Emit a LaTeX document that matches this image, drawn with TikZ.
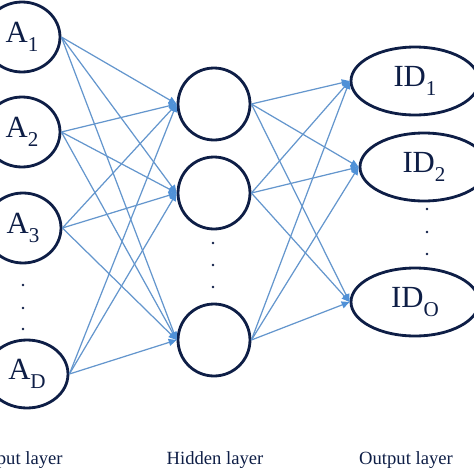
\documentclass[tikz,border=0pt]{standalone}
\usepackage{fontspec}
\setmainfont{Liberation Serif}
\usetikzlibrary{shapes.geometric,arrows.meta}
\definecolor{netnavy}{RGB}{14,30,70}
\definecolor{netblue}{RGB}{100,150,205}
\definecolor{nettip}{RGB}{80,145,215}
\newcommand{\lowidx}[1]{\raisebox{-5pt}{\fontsize{12}{12}\selectfont #1}}

\tikzset{
    inputnode/.style={
        ellipse,
        draw=netnavy,
        line width=1.6pt,
        inner sep=0pt,
        minimum width=1.52cm,
        minimum height=1.4cm,
        text=netnavy,
        font=\fontsize{17.5}{18}\selectfont
    },
    hiddennode/.style={
        circle,
        draw=netnavy,
        line width=1.6pt,
        inner sep=0pt,
        minimum size=1.44cm
    },
    outputnode/.style={
        ellipse,
        draw=netnavy,
        line width=1.6pt,
        inner sep=0pt,
        minimum width=2.56cm,
        minimum height=1.36cm,
        text=netnavy,
        font=\fontsize{17.5}{18}\selectfont
    },
    conn/.style={
        draw=netblue,
        line width=0.7pt,
        -{Triangle[length=4.5pt,width=4pt,color=nettip]}
    },
    dotmark/.style={
        circle,
        fill=netnavy,
        inner sep=0pt,
        minimum size=1.6pt
    },
    layerlabel/.style={
        text=netnavy,
        font=\fontsize{10.6}{12}\selectfont
    }
}

\begin{document}
\begin{tikzpicture}[x=0.02cm,y=-0.02cm]
            \useasboundingbox (0,0) rectangle (474,474);
            % input layer
            \node[inputnode] (A1) at (22,37) {A\lowidx{1}};
            \node[inputnode] (A2) at (22,132) {A\lowidx{2}};
            \node[inputnode] (A3) at (23,228) {A\lowidx{3}};
            \node[inputnode,minimum width=1.64cm,minimum height=1.36cm] (AD) at (27,374) {A\lowidx{D}};
            % hidden layer
            \node[hiddennode] (H1) at (214,104) {};
            \node[hiddennode] (H2) at (214,193) {};
            \node[hiddennode] (H3) at (214,340) {};
            % output layer
            \node[outputnode] (O1) at (415,81) {ID\lowidx{1}};
            \node[outputnode] (O2) at (424,167) {ID\lowidx{2}};
            \node[outputnode] (O3) at (415,302) {ID\lowidx{O}};
            % dots
            \foreach \y [count=\k] in {285,308,329} {
                \node[dotmark] (dA\k) at (23,\y) {};
            }
            \foreach \y [count=\k] in {243,265,287} {
                \node[dotmark] (dH\k) at (213,\y) {};
            }
            \foreach \y [count=\k] in {209,232,254} {
                \node[dotmark] (dO\k) at (427,\y) {};
            }
            % connections
            \foreach \i in {A1,A2,A3,AD} {
                \foreach \j in {H1,H2,H3} {
                    \draw[conn] (\i.east) -- (\j.west);
                }
            }
            \foreach \i in {H1,H2,H3} {
                \foreach \j in {O1,O2,O3} {
                    \draw[conn] (\i.east) -- (\j.west);
                }
            }
            % labels
            \node[layerlabel] (inlabel) at (22,460) {Input layer};
            \node[layerlabel] (hidlabel) at (215,460) {Hidden layer};
            \node[layerlabel] (outlabel) at (406,460) {Output layer};
        \end{tikzpicture}
\end{document}
